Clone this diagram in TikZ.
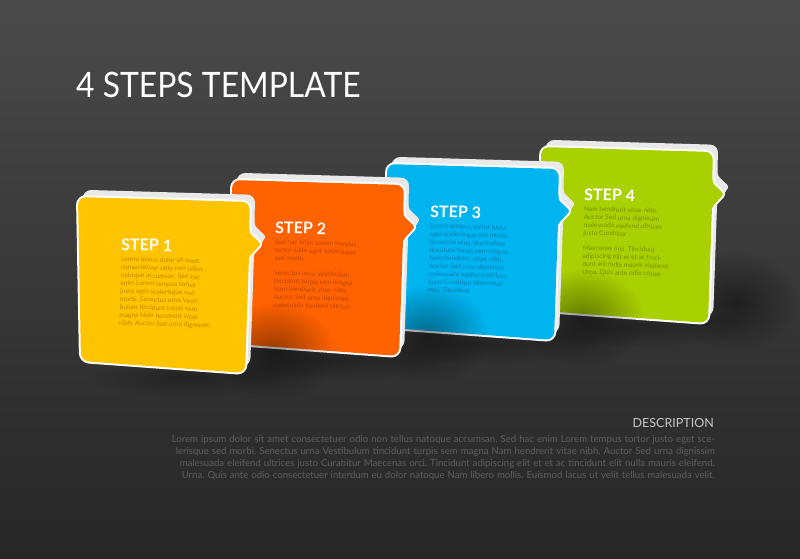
\documentclass[tikz,border=0pt]{standalone}
\usepackage{fontspec}
\usepackage{graphicx}
\usetikzlibrary{fadings}
\setmainfont{Lato}
\frenchspacing
\definecolor{bgtop}{HTML}{4A4A4A}
\definecolor{bgbot}{HTML}{262626}
\definecolor{cyel}{HTML}{FFC400}
\definecolor{tyel}{HTML}{C08A00}
\definecolor{corg}{HTML}{FF6200}
\definecolor{torg}{HTML}{C44400}
\definecolor{cblu}{HTML}{00B4EF}
\definecolor{tblu}{HTML}{0A80B4}
\definecolor{cgrn}{HTML}{A9D000}
\definecolor{tgrn}{HTML}{789400}
\definecolor{slabc}{HTML}{E9E9E9}
\definecolor{desctitle}{HTML}{C8C8C8}
\definecolor{desctext}{HTML}{5E5E5E}
\tikzfading[name=softblob, inner color=transparent!0, outer color=transparent!100]
\tikzset{
  cardshape/.style={insert path={(86,2.5) [rounded corners=8pt] -- (172,5) -- (171.3,28)
     [rounded corners=2.5pt] -- (171.6,36) -- (183,47) -- (171,60)
     [rounded corners=8pt] -- (167,176) -- (3,164) -- (0,0) -- cycle}},
  steptitle/.style={anchor=base west, inner sep=0pt, text=white,
     font=\fontsize{16}{18}\selectfont\bfseries},
  stepbody/.style={anchor=north west, inner sep=0pt, align=left,
     font=\fontsize{6.6}{8}\selectfont},
  paraline/.style={anchor=base east, inner sep=0pt, text=desctext,
     font=\fontsize{9.6}{10}\selectfont},
  blob/.style={black, opacity=0.42, path fading=softblob},
}
\newcommand\drawcard[6]{%
\begin{scope}[shift={(#1,#2)}]
  \foreach \k in {1,...,8}{\fill[slabc, shift={(0.65*\k,-0.9*\k)}] [cardshape];}
  \draw[white, line width=4pt, fill=white] [cardshape];
  \fill[#3] [cardshape];
  \node[steptitle, rotate=-1.7] (s#5) at (43,53) {STEP #5};
  \node[stepbody, text=#4, rotate=-1.7] (b#5) at (43,59) {#6};
\end{scope}}
\newcommand\castshadow[2]{%
\begin{scope}[shift={(#1,#2)}]
  \fill[blob] (195,155) ellipse [x radius=62pt, y radius=50pt];
  \fill[blob, opacity=0.3] (110,180) ellipse [x radius=100pt, y radius=22pt];
\end{scope}}
\begin{document}
\begin{tikzpicture}[x=1pt, y=-1pt]
\useasboundingbox (0,0) rectangle (800,558);
\shade[top color=bgtop, bottom color=bgbot] (0,0) rectangle (800,558);

\node[anchor=base west, inner sep=0pt, text=white, font=\fontsize{35}{40}\selectfont] (title) at (76,97) {\scalebox{0.91}[1]{4 STEPS TEMPLATE}};

\castshadow{541}{147}
\drawcard{541}{147}{cgrn}{tgrn}{4}{Nam hendrerit vitae nibh.\\Auctor Sed urna dignissim\\malesuada eleifend ultrices\\justo Curabitur\\[7pt]Maecenas orci. Tincidunt\\adipiscing elit et et ac tinci-\\dunt elit nulla mauris eleifend.\\Urna. Quis ante odio conse}
\castshadow{387}{164}
\drawcard{387}{164}{cblu}{tblu}{3}{Lorem tempus tortor justo\\eget scelerisque sed morbi.\\Senectus urna Vestibulum\\tincidunt turpis sem magna\\Nam hendrerit vitae nibh.\\Auctor Sed urna dignissim\\malesuada eleifend ultrices\\justo Curabitur Maecenas\\orci. Tincidunt}
\castshadow{232}{180}
\drawcard{232}{180}{corg}{torg}{2}{Sed hac enim Lorem tempus\\tortor justo eget scelerisque\\sed morbi.\\[7pt]Senectus urna Vestibulum\\tincidunt turpis sem magna\\Nam hendrerit vitae nibh.\\Auctor Sed urna dignissim\\malesuada eleifend ultrices}
\castshadow{78}{197}
\drawcard{78}{197}{cyel}{tyel}{1}{Lorem ipsum dolor sit amet\\consectetuer odio non tellus\\natoque accumsan. Sed hac\\enim Lorem tempus tortor\\justo eget scelerisque sed\\morbi. Senectus urna Vesti-\\bulum tincidunt turpis sem\\magna Nam hendrerit vitae\\nibh. Auctor Sed urna dignissim}

\node[anchor=base east, inner sep=0pt, text=desctitle, font=\fontsize{12.5}{14}\selectfont] (desc) at (714,427) {DESCRIPTION};
\node[paraline] (p1) at (715,442) {\makebox[543pt][s]{Lorem ipsum dolor sit amet consectetuer odio non tellus natoque accumsan. Sed hac enim Lorem tempus tortor justo eget sce-}};
\node[paraline] (p2) at (715,454) {\makebox[539pt][s]{lerisque sed morbi. Senectus urna Vestibulum tincidunt turpis sem magna Nam hendrerit vitae nibh. Auctor Sed urna dignissim}};
\node[paraline] (p3) at (715,466) {\makebox[535pt][s]{malesuada eleifend ultrices justo Curabitur Maecenas orci. Tincidunt adipiscing elit et et ac tincidunt elit nulla mauris eleifend.}};
\node[paraline] (p4) at (715,478) {\makebox[533pt][s]{Urna. Quis ante odio consectetuer interdum eu dolor natoque Nam libero mollis. Euismod lacus ut velit tellus malesuada velit.}};
\end{tikzpicture}
\end{document}
